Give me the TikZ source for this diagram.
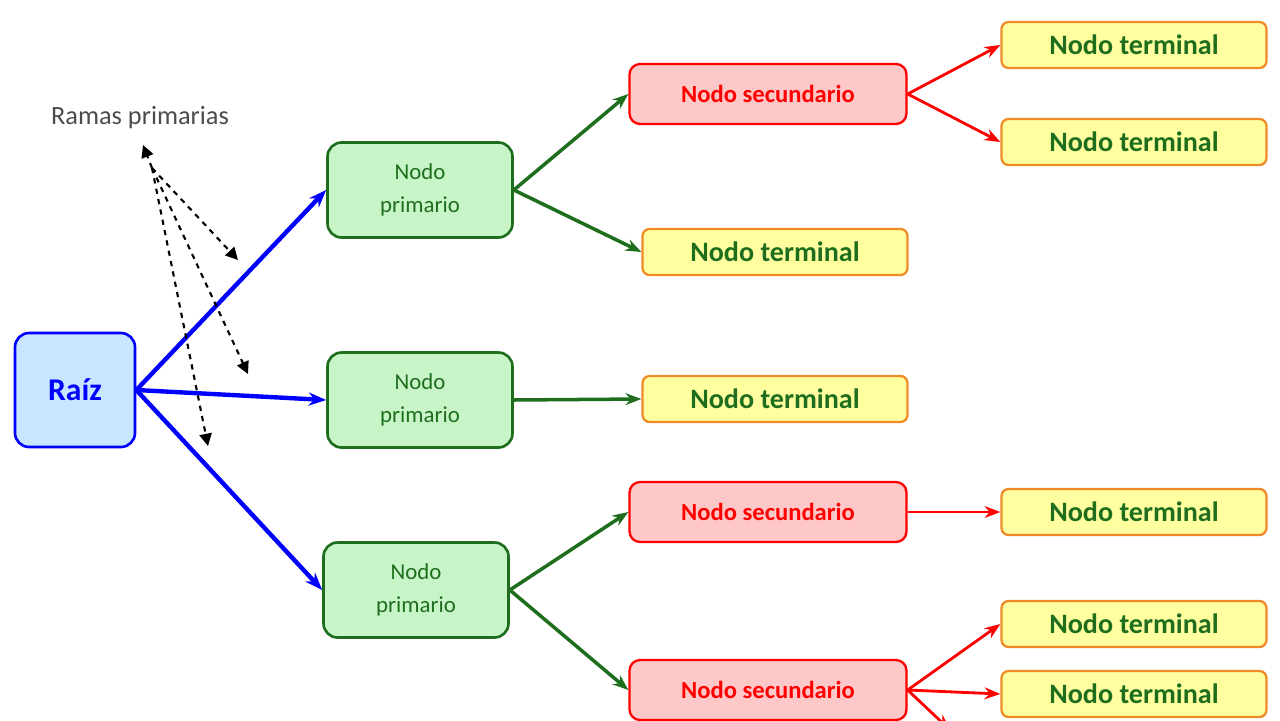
\documentclass[tikz,border=0pt]{standalone}
\usepackage{fontspec}
\setmainfont{Carlito}
\usetikzlibrary{arrows.meta}
\definecolor{dgreen}{RGB}{30,110,30}
\definecolor{pgreen}{RGB}{200,245,200}
\definecolor{pblue}{RGB}{200,230,255}
\definecolor{pred}{RGB}{255,200,200}
\definecolor{pyel}{RGB}{255,255,160}
\definecolor{orng}{RGB}{240,140,40}
\tikzset{
  rootbox/.style={draw=blue, fill=pblue, line width=1.5pt, rounded corners=8pt, minimum width=120*0.02cm, minimum height=114*0.02cm, text=blue, font=\fontsize{18}{20}\selectfont\bfseries},
  primbox/.style={draw=dgreen, fill=pgreen, line width=1.5pt, rounded corners=8pt, minimum width=185*0.02cm, minimum height=95*0.02cm, align=center, text=dgreen, font=\fontsize{13}{19}\selectfont},
  secbox/.style={draw=red, fill=pred, line width=1.3pt, rounded corners=6pt, minimum width=277*0.02cm, minimum height=60*0.02cm, text=red, font=\fontsize{14}{16}\selectfont\bfseries},
  termbox/.style={draw=orng, fill=pyel, line width=1.3pt, rounded corners=4pt, minimum width=265*0.02cm, minimum height=46*0.02cm, text=dgreen, font=\fontsize{16}{18}\selectfont\bfseries},
  blueline/.style={-{Stealth[length=10pt]}, blue, line width=2.5pt},
  greenline/.style={-{Stealth[length=9pt]}, dgreen, line width=2pt},
  redline/.style={-{Stealth[length=9pt]}, red, line width=1.6pt},
  hint/.style={dashed, line width=1.2pt, -{Triangle[length=7pt,width=7pt]}}
}
\begin{document}
\begin{tikzpicture}[x=0.02cm,y=-0.02cm]
  \useasboundingbox (0,0) rectangle (1280,720);
  \clip (0,0) rectangle (1280,720);
  % nodes
  \node[rootbox] (root) at (75,390) {Raíz};
  \node[primbox] (p1) at (420,190) {Nodo\\primario};
  \node[primbox] (p2) at (420,400) {Nodo\\primario};
  \node[primbox] (p3) at (416,590) {Nodo\\primario};
  \node[secbox] (s1) at (768,94) {Nodo secundario};
  \node[secbox] (s2) at (768,512) {Nodo secundario};
  \node[secbox] (s3) at (768,690) {Nodo secundario};
  \node[termbox] (ta) at (775,252) {Nodo terminal};
  \node[termbox] (tb) at (775,399) {Nodo terminal};
  \node[termbox] (t1) at (1134,45) {Nodo terminal};
  \node[termbox] (t2) at (1134,142) {Nodo terminal};
  \node[termbox] (t3) at (1134,512) {Nodo terminal};
  \node[termbox] (t4) at (1134,624) {Nodo terminal};
  \node[termbox] (t5) at (1134,694) {Nodo terminal};
  \coordinate (t6) at (950,730);
  % branches
  \draw[blueline] (root.east) -- (p1.west);
  \draw[blueline] (root.east) -- (p2.west);
  \draw[blueline] (root.east) -- (p3.west);
  \draw[greenline] (p1.east) -- (s1.west);
  \draw[greenline] (p1.east) -- (ta.west);
  \draw[greenline] (p2.east) -- (tb.west);
  \draw[greenline] (p3.east) -- (s2.west);
  \draw[greenline] (p3.east) -- (s3.west);
  \draw[redline] (s1.east) -- (t1.west);
  \draw[redline] (s1.east) -- (t2.west);
  \draw[redline] (s2.east) -- (t3.west);
  \draw[redline] (s3.east) -- (t4.west);
  \draw[redline] (s3.east) -- (t5.west);
  \draw[redline] (s3.east) -- (t6);
  % label
  \node[text=black!70, font=\fontsize{15}{17}\selectfont] (lbl) at (140,118) {Ramas primarias};
  \coordinate (hub) at (152,168);
  \coordinate (h1) at (238,260);
  \coordinate (h2) at (248,374);
  \coordinate (h3) at (208,446);
  \draw[hint] (hub) -- (143,145);
  \draw[hint] (hub) -- (h1);
  \draw[hint] (hub) -- (h2);
  \draw[hint] (hub) -- (h3);
\end{tikzpicture}
\end{document}
